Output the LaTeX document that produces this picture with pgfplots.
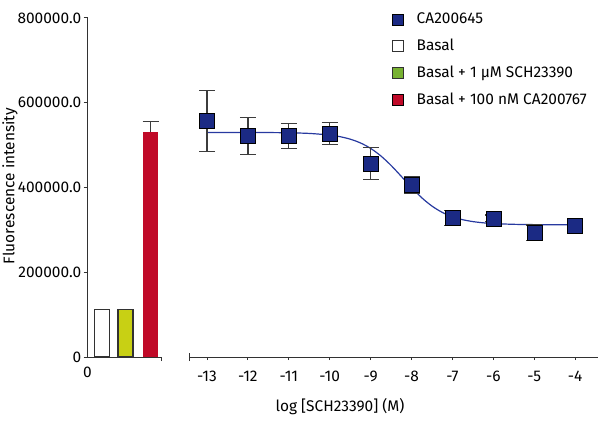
\documentclass[border=0pt]{standalone}
\usepackage{pgfplots}
\pgfplotsset{compat=1.18}
\usepackage{fontspec}
\setmainfont{Fira Sans}
\definecolor{cablue}{RGB}{27,42,132}
\definecolor{curveblue}{RGB}{40,58,160}
\definecolor{cared}{RGB}{192,10,40}
\definecolor{bary}{RGB}{200,208,20}
\definecolor{leggreen}{RGB}{120,178,50}
\definecolor{axcol}{RGB}{50,50,50}
\definecolor{errcol}{RGB}{60,60,60}
\newcommand{\ff}{\fontsize{15.5}{18}\selectfont}
\begin{document}
\ff
\begin{tikzpicture}[x=1bp,y=1bp]
\useasboundingbox (0,0) rectangle (600,428);
% ---------- left axis (bars)
\begin{axis}[
  at={(87.5bp,71bp)}, anchor=south west,
  scale only axis, width=74bp, height=339bp,
  xmin=0, xmax=74, ymin=0, ymax=800000,
  axis x line=bottom, axis y line=left,
  axis line style={-, draw=axcol, line width=1bp},
  ytick={0,200000,400000,600000,800000},
  yticklabels={0,200000.0,400000.0,600000.0,800000.0},
  scaled y ticks=false,
  xtick={74}, xticklabels={},
  extra x ticks={0}, extra x tick labels={0},
  extra x tick style={major tick length=0pt},
  tick align=outside, major tick length=4bp,
  tick style={draw=axcol, line width=1bp},
  yticklabel style={xshift=3bp, font=\ff},
  xticklabel style={yshift=-5bp, font=\ff},
  clip=false,
]
\addplot[ybar, bar width=15, bar shift=0pt, fill=white, draw=axcol, line width=1.2bp] coordinates {(14.5,113000)};
\addplot[ybar, bar width=15, bar shift=0pt, fill=bary, draw=axcol, line width=1.2bp] coordinates {(38,113000)};
\addplot[ybar, bar width=15, bar shift=0pt, fill=cared, draw=none,
  error bars/.cd, y dir=plus, y explicit,
  error bar style={draw=errcol, line width=1.2bp},
  error mark options={rotate=90, mark size=8bp, line width=1.2bp, draw=errcol}]
  coordinates {(63,531000) +- (0,24000)};
\end{axis}
% ---------- right axis (dose response)
\begin{axis}[
  at={(189bp,71bp)}, anchor=south west,
  scale only axis, width=409bp, height=339bp,
  xmin=-13.44, xmax=-3.44, ymin=0, ymax=800000,
  axis x line=bottom, axis y line=none,
  axis line style={-, draw=axcol, line width=1bp},
  xtick={-13,-12,-11,-10,-9,-8,-7,-6,-5,-4},
  xticklabels={-13,-12,-11,-10,-9,-8,-7,-6,-5,-4},
  extra x ticks={-13.44}, extra x tick labels={},
  extra x tick style={tick align=center, major tick length=8bp},
  ytick=\empty,
  tick align=outside, major tick length=3bp,
  tick style={draw=axcol, line width=1bp},
  xticklabel style={yshift=-6bp, font=\ff},
  clip=false,
  legend style={at={(0.496,1.021)}, anchor=north west, draw=none, fill=none,
    inner sep=0pt, row sep=9bp, font=\ff,
    cells={anchor=west}},
  legend cell align=left,
  legend image code/.code={\draw[#1] (0bp,-5.5bp) rectangle (11bp,5.5bp); \path[draw=none,fill=none] (0bp,0bp) -- (22bp,0bp);},
]
\addlegendimage{fill=cablue, draw=none}
\addlegendentry{CA200645}
\addlegendimage{fill=white, draw=axcol, line width=1.2bp}
\addlegendentry{Basal}
\addlegendimage{fill=leggreen, draw=axcol, line width=1.2bp}
\addlegendentry{Basal + 1 µM SCH23390}
\addlegendimage{fill=cared, draw=none}
\addlegendentry{Basal + 100 nM CA200767}
% fitted curve
\addplot[curveblue, line width=1.2bp, smooth, forget plot] coordinates {
(-13,529982) (-12.5,529952) (-12,529870) (-11.5,529659) (-11,529095)
(-10.5,527609) (-10,523754) (-9.75,519985) (-9.5,514129) (-9.25,505246)
(-9,492329) (-8.75,474591) (-8.5,452112) (-8.25,426327) (-8,399939)
(-7.75,375870) (-7.5,356165) (-7.25,341380) (-7,331006) (-6.75,324057)
(-6.5,319554) (-6.25,316693) (-6,314902) (-5.5,313099) (-5,312415)
(-4.5,312156) (-4,312059)};
% data with error bars
\addplot[only marks, mark=square*, mark size=7.5bp, mark options={fill=cablue, draw=none}, forget plot,
  error bars/.cd, y dir=both, y explicit,
  error bar style={draw=errcol, line width=1.2bp},
  error mark options={rotate=90, mark size=8bp, line width=1.2bp, draw=errcol}]
  coordinates {
  (-13,557000) +- (0,72000)
  (-12,521500) +- (0,43000)
  (-11,521500) +- (0,29500)
  (-10,527000) +- (0,26000)
  (-9,457000) +- (0,38000)
  (-8,406000) +- (0,19000)
  (-7,328000) +- (0,18000)
  (-6,327000) +- (0,8000)
  (-5,293500) +- (0,18000)
  (-4,309000) +- (0,6000)
  };
\end{axis}
\node[font=\ff] at (340bp,21bp) {log [SCH23390] (M)};
\node[font=\ff, rotate=90] at (10bp,242bp) {Fluorescence intensity};
\end{tikzpicture}
\end{document}
